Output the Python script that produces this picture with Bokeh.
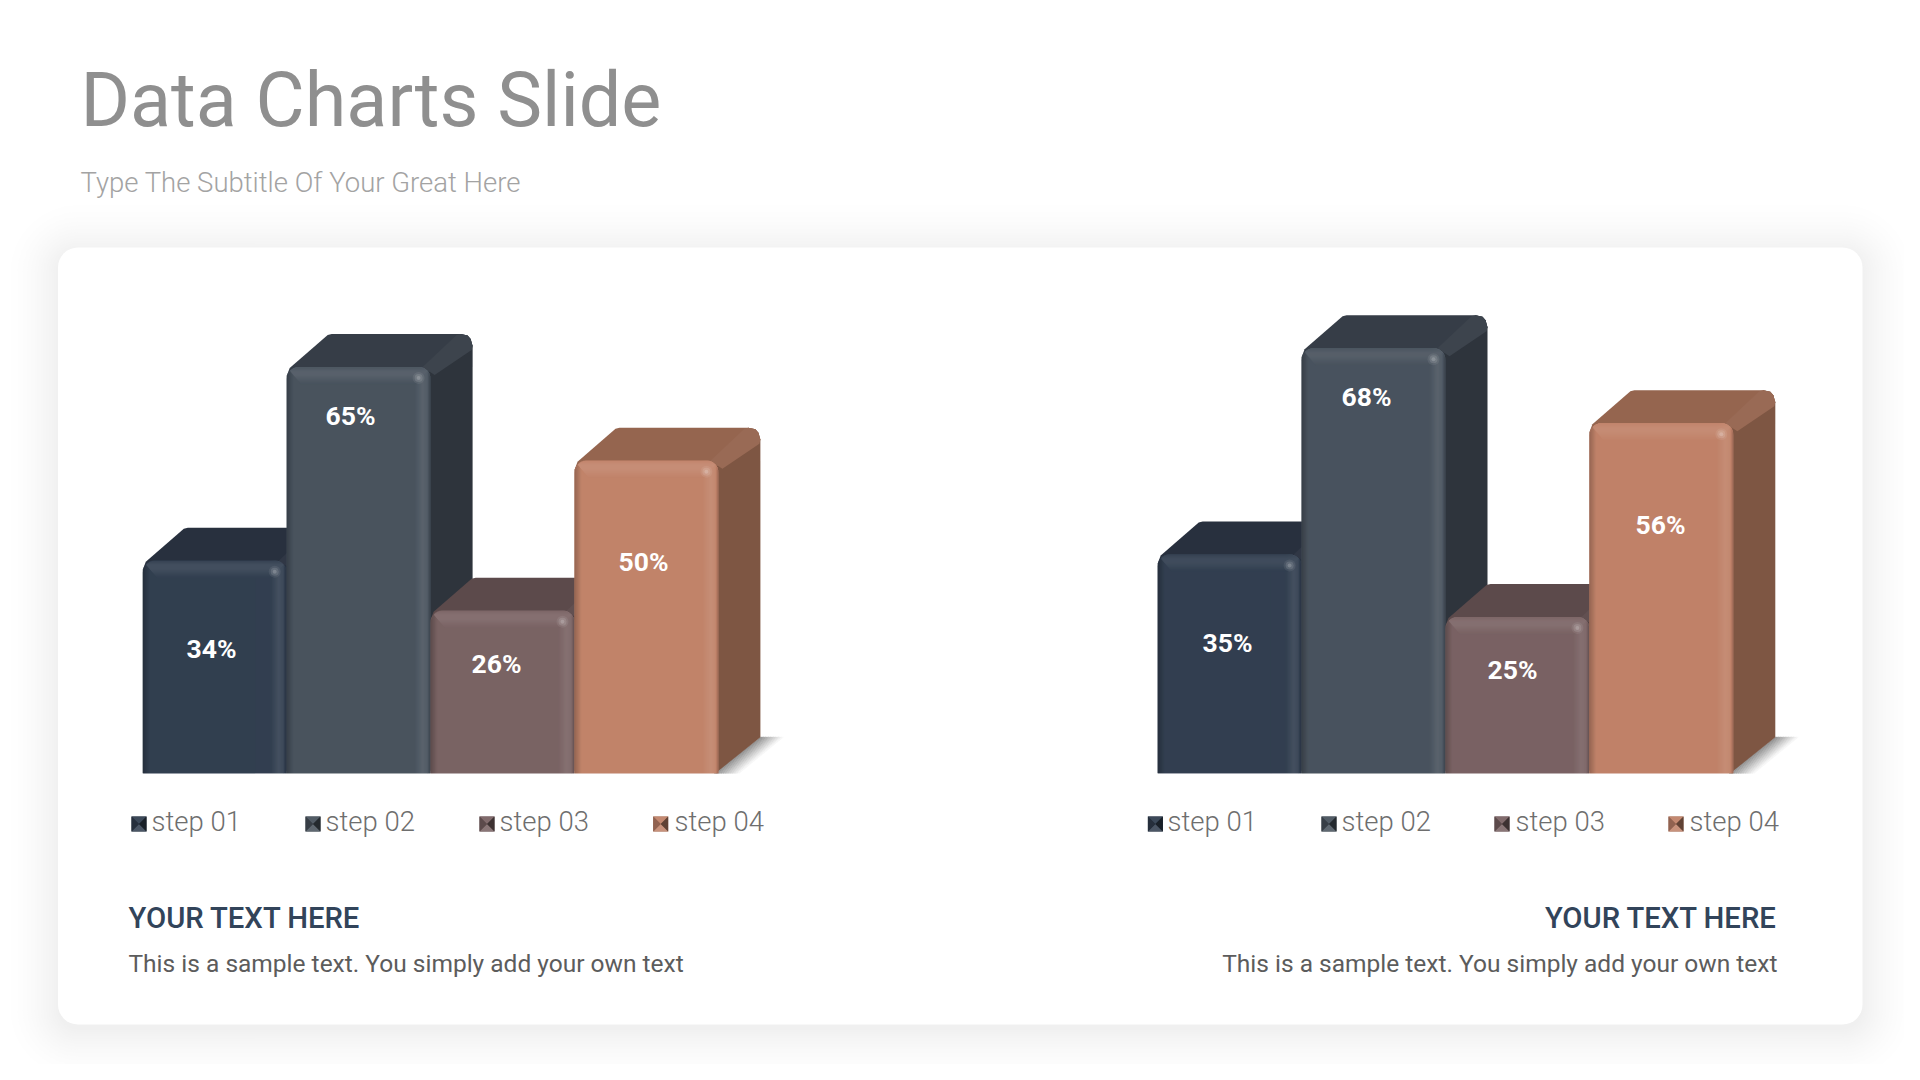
import math
from bokeh.plotting import figure
from bokeh.models import Range1d
from bokeh.core.properties import value
from bokeh.embed import file_html
from bokeh.resources import INLINE

# ---------- data ----------
title = "Data Charts Slide"
subtitle = "Type The Subtitle Of Your Great Here"
heading = "YOUR TEXT HERE"
body = "This is a sample text. You simply add your own text"
categories = ["step 01", "step 02", "step 03", "step 04"]
left_values = [34, 65, 26, 50]
right_values = [35, 68, 25, 56]

# ---------- style ----------
front_colors = ["#323f50", "#49535e", "#7a6364", "#c1836a"]
top_colors = ["#28303e", "#363d47", "#5c4a4b", "#95654f"]
side_colors = ["#2a3341", "#2e343c", "#524243", "#7e5643"]
UX, UY = 143.9, 6.25          # px per category, px per percent
BASE = 772.7                  # baseline px
DX, DY = 42, 33               # depth of the boxes
LEFT_X0, RIGHT_X0 = 142.3, 1157.2
W, H = 1904, 1064
FONT = value("Roboto")
LIGHT = value("Roboto Light")
MEDIUM = value("Roboto Medium")

def mix(c, other, t):
    a = [int(c[i:i + 2], 16) for i in (1, 3, 5)]
    b = [int(other[i:i + 2], 16) for i in (1, 3, 5)]
    return "#%02x%02x%02x" % tuple(round(p + (q - p) * t) for p, q in zip(a, b))

def shade(c, t):
    return mix(c, "#ffffff", t) if t >= 0 else mix(c, "#000000", -t)

p = figure(width=W, height=H, output_backend="svg", toolbar_location=None,
           x_range=Range1d(0, W), y_range=Range1d(H, 0),
           x_axis_type=None, y_axis_type=None, min_border=0,
           background_fill_color="#ffffff", border_fill_color="#ffffff",
           outline_line_color=None)
p.grid.visible = False
p.extra_x_ranges = {
    "left": Range1d((0 - LEFT_X0) / UX, (W - LEFT_X0) / UX),
    "right": Range1d((0 - RIGHT_X0) / UX, (W - RIGHT_X0) / UX),
}
p.extra_y_ranges = {"pct": Range1d((BASE - H) / UY, BASE / UY)}

def rrect(x0, y0, x1, y1, r, n=8):
    xs, ys = [], []
    for cx, cy, a0 in ((x1 - r, y0 + r, -90), (x1 - r, y1 - r, 0), (x0 + r, y1 - r, 90), (x0 + r, y0 + r, 180)):
        for k in range(n + 1):
            a = math.radians(a0 + 90 * k / n)
            xs.append(cx + r * math.cos(a))
            ys.append(cy + r * math.sin(a))
    return xs, ys

# ---------- card and soft shadow (opaque steps of grey) ----------
CARD = (57.5, 247, 1862, 1024)
LEVELS = 15
for k in range(1, LEVELS + 1):
    e = 64 * (1 - math.sqrt(k / LEVELS))
    xs, ys = rrect(CARD[0] - e, CARD[1] - e + 5, CARD[2] + e, CARD[3] + e + 5, 20 + e)
    g = 255 - k
    p.patch(xs, ys, fill_color="#%02x%02x%02x" % (g, g, g), fill_alpha=1.0, line_color=None)
xs, ys = rrect(*CARD, 20)
p.patch(xs, ys, fill_color="#ffffff", fill_alpha=1.0, line_color=None)

# ---------- titles ----------
def txt(x, y, s, size, color, font=FONT, style="normal", align="left"):
    p.text([x], [y], text=[s], text_font=font, text_font_size=size, text_color=color,
           text_font_style=style, text_align=align, text_baseline="middle")

txt(80, 99, title, "75.5px", "#8f8f8f")
txt(80, 182, subtitle, "27.5px", "#a3a3a3", font=LIGHT)

# ---------- 3D bars ----------
def draw_bar(i, v, rng):
    kw = dict(x_range_name=rng, y_range_name="pct", line_color=None, fill_alpha=1.0)
    px = lambda a: i + a / UX          # px offset from the bar's left edge
    py = lambda b: v + b / UY          # px offset above the bar's top
    w = UX
    front, top, side = front_colors[i], top_colors[i], side_colors[i]

    # right side
    p.patch([px(w - 3), px(w + DX), px(w + DX), px(w + DX - 2), px(w + DX - 5), px(w + DX - 12), px(w - 3)],
            [0, 36 / UY, py(DY - 12), py(DY - 5), py(DY - 1.5), py(DY), py(0)],
            fill_color=side, **kw)
    # top
    p.patch([px(0), px(3), px(DX - 1), px(DX + 3), px(w + DX - 12), px(w + DX - 5), px(w + DX - 2), px(w + DX), px(w)],
            [py(-9), py(-1), py(DY - 1), py(DY), py(DY), py(DY - 1.5), py(DY - 5), py(DY - 12), py(-5)],
            fill_color=top, **kw)
    # ridge between top and side
    ridge = shade(top, 0.035)
    p.patch([px(w - 8), px(w + DX - 16), px(w + DX - 12), px(w + DX - 5), px(w + DX - 2), px(w + DX), px(w + DX - 1), px(w + 4)],
            [py(0), py(DY - 1), py(DY), py(DY - 1.5), py(DY - 5), py(DY - 12), py(DY - 16), py(-8)],
            fill_color=ridge, **kw)

    # front: opaque base
    R = 12
    ax, ay = rrect(0, 0, w, 2 * R + 2, R)
    top_corners = [(a, b) for a, b in zip(ax, ay) if b <= R + 1e-6]
    right = sorted([q for q in top_corners if q[0] >= w / 2], key=lambda q: -q[1])
    left = sorted([q for q in top_corners if q[0] < w / 2], key=lambda q: q[1])
    bx = [px(0), px(w)] + [px(a) for a, b in right] + [px(a) for a, b in left]
    by = [0, 0] + [py(-b) for a, b in right] + [py(-b) for a, b in left]
    p.patch(bx, by, fill_color=shade(front, -0.05), **kw)

    def inset(d):
        return R - math.sqrt(max(R * R - (R - d) ** 2, 0)) if d < R else 0
    L, Rr, T, B, cols = [], [], [], [], []
    for k in range(int(w) + 1):
        dl, dr = k + 0.5, w - k - 0.5
        if dl < 7:
            t = -0.24 * (1 - dl / 7)
        elif dr < 3:
            t = -0.26 * (1 - dr / 3) + 0.05
        elif dr < 8:
            t = 0.05 + 0.04 * (dr - 3) / 5
        elif dr < 16:
            t = 0.09 * (16 - dr) / 8
        else:
            t = 0
        L.append(px(k)); Rr.append(px(min(k + 1.4, w)))
        T.append(py(-inset(min(dl, dr)))); B.append(0)
        cols.append(shade(front, t))
    p.quad(left=L, right=Rr, top=T, bottom=B, fill_color=cols, **kw)
    # horizontal strips from the top down, mitred at the corners
    L, Rr, T, B, cols = [], [], [], [], []
    for d in range(16, -1, -1):
        dc = d + 0.5
        if dc < 4:
            t = 0.02 + 0.06 * dc / 4
        elif dc < 8:
            t = 0.08
        else:
            t = 0.08 * (16 - dc) / 8
        ins = max(inset(dc), dc * 0.85)
        L.append(px(ins)); Rr.append(px(w - ins))
        T.append(py(-d)); B.append(py(-d - 1.4))
        cols.append(shade(front, t))
    p.quad(left=L, right=Rr, top=T, bottom=B, fill_color=cols, **kw)
    # corner highlight
    for size, alpha in ((12, 0.07), (8, 0.12), (4, 0.18)):
        p.scatter([px(w - 12)], [py(-11)], size=size, marker="circle",
                  fill_color="#ffffff", fill_alpha=alpha, line_color=None,
                  x_range_name=rng, y_range_name="pct")

def floor_shadow(rng):
    N = 14
    for k in range(N):
        t0, t1 = k / N, (k + 1) / N
        col = mix("#8c8c8c", "#ffffff", t0)
        p.patch([4 - 4 / UX + 25 * t0 / UX, 4 - 4 / UX + 25 * t1 / UX, 4 + (DX + 23 * t1) / UX, 4 + (DX + 23 * t0) / UX],
                [0, 0, 36 / UY, 36 / UY], fill_color=col, fill_alpha=1.0, line_color=col, line_width=0.5,
                x_range_name=rng, y_range_name="pct")

def draw_chart(values, rng):
    floor_shadow(rng)
    for i, v in enumerate(values):
        draw_bar(i, v, rng)

draw_chart(left_values, "left")
draw_chart(right_values, "right")

# ---------- value labels (centre x, centre y in page px) ----------
def labels(values, xs, ys):
    p.text(xs, ys, text=[f"{v}%" for v in values], text_font=FONT, text_font_size="26.5px",
           text_font_style="bold", text_color="#ffffff", text_align="center", text_baseline="middle")

labels(left_values, [211, 350, 496, 643], [648, 415, 663, 561])
labels(right_values, [1227, 1366, 1512, 1660], [642, 396, 669, 524])

# ---------- legends ----------
def legend(marker_xs, text_xs):
    y0, y1 = 816, 831
    s = 15
    for mx, c in zip(marker_xs, front_colors):
        cx, cy = mx + s / 2, (y0 + y1) / 2
        kw = dict(fill_alpha=1.0, line_color=None)
        p.patch([mx, mx + s, mx + s, mx], [y0, y0, y1, y1], fill_color=shade(c, -0.2), **kw)
        p.patch([mx, mx + s, cx], [y0, y0, cy], fill_color=shade(c, 0.05), **kw)
        p.patch([mx, mx + s, cx], [y1, y1, cy], fill_color=shade(c, 0.12), **kw)
        p.patch([mx, mx, cx], [y0, y1, cy], fill_color=shade(c, -0.25), **kw)
        p.patch([mx + s, mx + s, cx], [y0, y1, cy], fill_color=shade(c, -0.5), **kw)
    for tx, cat in zip(text_xs, categories):
        txt(tx, 821, cat, "27.5px", "#6e6e6e", font=LIGHT)

legend([131, 305, 479, 652.7], [151, 325, 499, 674])
legend([1147.4, 1321, 1494, 1668], [1167, 1341, 1515, 1689])

# ---------- captions ----------
txt(128, 917, heading, "29.3px", "#32445a", font=MEDIUM)
txt(128, 963, body, "24.5px", "#5c5c5c")
txt(1777, 917, heading, "29.3px", "#32445a", font=MEDIUM, align="right")
txt(1777, 963, body, "24.5px", "#5c5c5c", align="right")

open("out.html", "w").write(file_html(p, INLINE))
